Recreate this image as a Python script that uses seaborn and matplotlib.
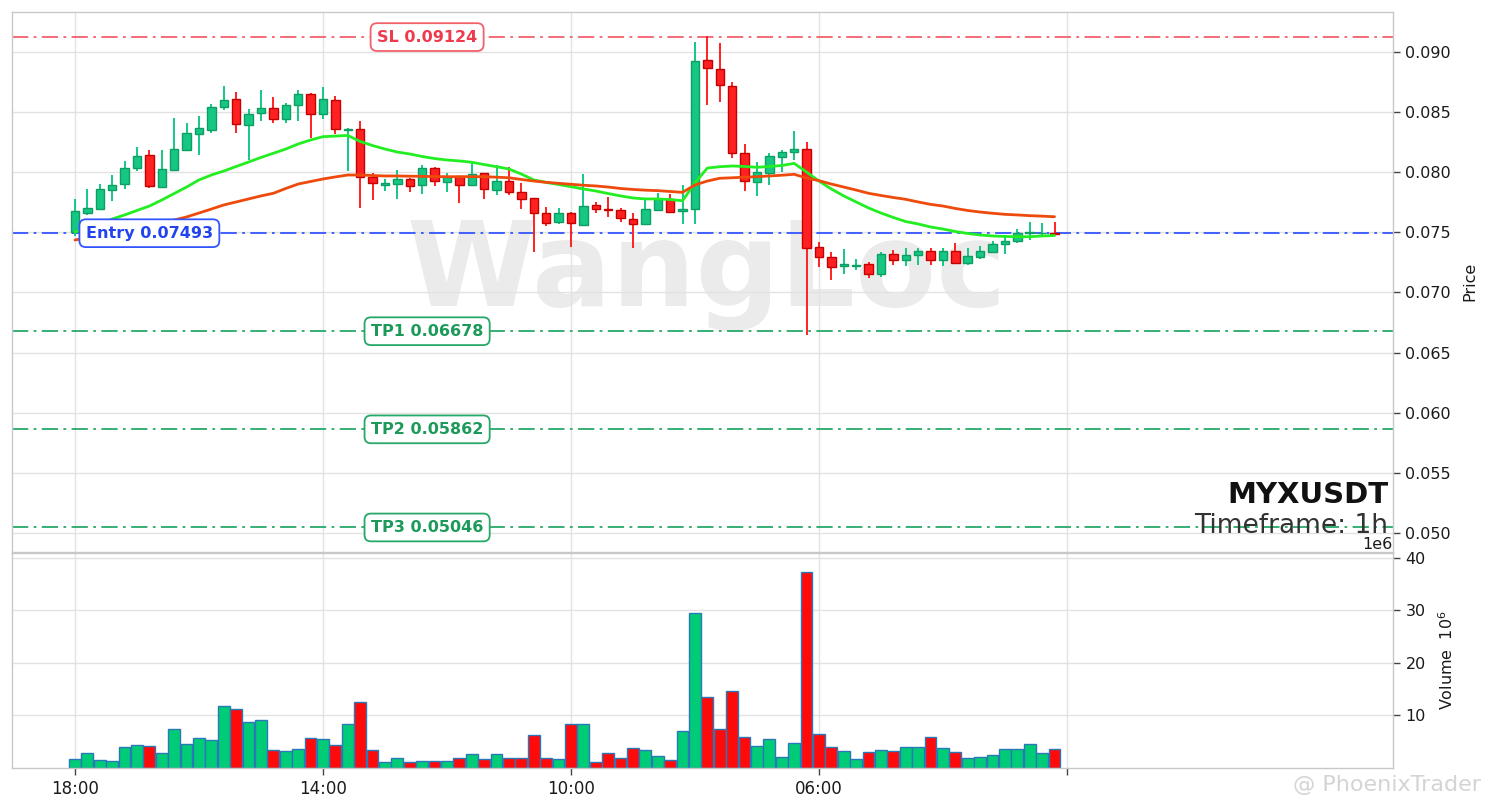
import numpy as np
import pandas as pd
import matplotlib
matplotlib.use("Agg")
import matplotlib.pyplot as plt
from matplotlib.ticker import ScalarFormatter
import seaborn as sns

sns.set_style("whitegrid", {"grid.color": "#e2e2e2", "axes.edgecolor": "#c8c8c8"})
plt.rcParams["font.family"] = ["DejaVu Sans"]

# ---------------- data ----------------
open_ = [0.07503, 0.07664, 0.07692, 0.07855, 0.07900, 0.08038, 0.08141, 0.07880, 0.08019, 0.08188,
         0.08316, 0.08351, 0.08545, 0.08607, 0.08390, 0.08490, 0.08532, 0.08440, 0.08557, 0.08648,
         0.08482, 0.08601, 0.08351, 0.08357, 0.07958, 0.07896, 0.07905, 0.07944, 0.07891, 0.08033,
         0.07916, 0.07966, 0.07898, 0.07990, 0.07852, 0.07927, 0.07833, 0.07784, 0.07661, 0.07589,
         0.07661, 0.07561, 0.07728, 0.07694, 0.07686, 0.07610, 0.07567, 0.07689, 0.07780, 0.07675,
         0.07692, 0.08931, 0.08856, 0.08717, 0.08158, 0.07916, 0.07991, 0.08129, 0.08166, 0.08193,
         0.07376, 0.07293, 0.07218, 0.07223, 0.07235, 0.07154, 0.07319, 0.07274, 0.07308, 0.07345,
         0.07270, 0.07345, 0.07243, 0.07298, 0.07339, 0.07401, 0.07428, 0.07492, 0.07492, 0.07495]
high = [0.07778, 0.07861, 0.07905, 0.07980, 0.08094, 0.08207, 0.08183, 0.08183, 0.08449, 0.08407,
        0.08470, 0.08565, 0.08717, 0.08665, 0.08523, 0.08684, 0.08623, 0.08573, 0.08684, 0.08657,
        0.08706, 0.08634, 0.08364, 0.08429, 0.07996, 0.07941, 0.08019, 0.07952, 0.08060, 0.08041,
        0.07996, 0.07969, 0.08094, 0.07996, 0.08064, 0.08044, 0.07908, 0.07786, 0.07709, 0.07700,
        0.07669, 0.07983, 0.07751, 0.07798, 0.07700, 0.07659, 0.07769, 0.07825, 0.07819, 0.07894,
        0.09086, 0.09130, 0.09077, 0.08753, 0.08232, 0.08083, 0.08163, 0.08185, 0.08346, 0.08249,
        0.07422, 0.07334, 0.07359, 0.07276, 0.07251, 0.07337, 0.07353, 0.07368, 0.07373, 0.07370,
        0.07373, 0.07409, 0.07373, 0.07387, 0.07431, 0.07478, 0.07528, 0.07584, 0.07575, 0.07584]
low = [0.07470, 0.07645, 0.07686, 0.07763, 0.07861, 0.08013, 0.07867, 0.07877, 0.08013, 0.08185,
       0.08143, 0.08324, 0.08518, 0.08329, 0.08102, 0.08429, 0.08407, 0.08412, 0.08429, 0.08287,
       0.08440, 0.08316, 0.08013, 0.07705, 0.07769, 0.07844, 0.07778, 0.07838, 0.07819, 0.07886,
       0.07838, 0.07748, 0.07886, 0.07775, 0.07807, 0.07811, 0.07693, 0.07339, 0.07549, 0.07570,
       0.07376, 0.07557, 0.07659, 0.07628, 0.07586, 0.07368, 0.07565, 0.07686, 0.07659, 0.07570,
       0.07570, 0.08559, 0.08587, 0.08116, 0.07844, 0.07803, 0.07894, 0.08005, 0.08102, 0.06647,
       0.07210, 0.07104, 0.07154, 0.07187, 0.07118, 0.07129, 0.07229, 0.07220, 0.07231, 0.07229,
       0.07220, 0.07241, 0.07229, 0.07279, 0.07337, 0.07320, 0.07414, 0.07437, 0.07478, 0.07478]
close = [0.07678, 0.07703, 0.07861, 0.07891, 0.08033, 0.08133, 0.07888, 0.08025, 0.08191, 0.08324,
         0.08365, 0.08540, 0.08598, 0.08399, 0.08484, 0.08532, 0.08440, 0.08559, 0.08648, 0.08482,
         0.08609, 0.08357, 0.08360, 0.07958, 0.07908, 0.07913, 0.07944, 0.07888, 0.08033, 0.07925,
         0.07963, 0.07898, 0.07983, 0.07857, 0.07927, 0.07838, 0.07780, 0.07659, 0.07582, 0.07661,
         0.07575, 0.07719, 0.07692, 0.07682, 0.07617, 0.07567, 0.07692, 0.07780, 0.07669, 0.07692,
         0.08925, 0.08864, 0.08723, 0.08158, 0.07927, 0.08000, 0.08135, 0.08166, 0.08193, 0.07373,
         0.07293, 0.07215, 0.07235, 0.07231, 0.07150, 0.07319, 0.07274, 0.07310, 0.07347, 0.07274,
         0.07345, 0.07243, 0.07304, 0.07345, 0.07401, 0.07428, 0.07492, 0.07501, 0.07496, 0.07487]
volume_m = [1.64, 2.77, 1.45, 1.26, 3.90, 4.47, 4.20, 2.77, 7.49, 4.66,
            5.79, 5.42, 11.83, 11.26, 8.81, 9.19, 3.34, 3.15, 3.53, 5.79,
            5.60, 4.47, 8.43, 12.58, 3.34, 1.08, 1.83, 1.08, 1.26, 1.26,
            1.26, 1.83, 2.58, 1.64, 2.58, 1.83, 1.83, 6.36, 1.83, 1.64,
            8.43, 8.43, 1.08, 2.77, 1.83, 3.71, 3.34, 2.20, 1.45, 7.11,
            29.57, 13.53, 7.49, 14.66, 5.98, 4.28, 5.60, 2.02, 4.85, 37.30,
            6.55, 3.90, 3.15, 1.64, 2.96, 3.34, 3.15, 4.09, 3.90, 5.98,
            3.71, 2.96, 1.83, 2.02, 2.40, 3.53, 3.53, 4.66, 2.77, 3.53]
ema_fast = [0.07503, 0.07536, 0.07570, 0.07611, 0.07645, 0.07682, 0.07719, 0.07769, 0.07823, 0.07877,
            0.07936, 0.07977, 0.08010, 0.08048, 0.08085, 0.08123, 0.08158, 0.08193, 0.08235, 0.08268,
            0.08296, 0.08301, 0.08306, 0.08256, 0.08222, 0.08193, 0.08168, 0.08152, 0.08131, 0.08114,
            0.08102, 0.08094, 0.08083, 0.08064, 0.08046, 0.08027, 0.07985, 0.07936, 0.07916, 0.07898,
            0.07880, 0.07861, 0.07844, 0.07823, 0.07803, 0.07786, 0.07778, 0.07778, 0.07773, 0.07763,
            0.07911, 0.08035, 0.08046, 0.08052, 0.08048, 0.08041, 0.08048, 0.08056, 0.08074, 0.08002,
            0.07927, 0.07861, 0.07803, 0.07753, 0.07703, 0.07661, 0.07624, 0.07590, 0.07570, 0.07545,
            0.07528, 0.07507, 0.07491, 0.07478, 0.07470, 0.07466, 0.07464, 0.07464, 0.07470, 0.07474]
ema_slow = [0.07437, 0.07453, 0.07470, 0.07491, 0.07511, 0.07536, 0.07557, 0.07578, 0.07603, 0.07628,
            0.07661, 0.07694, 0.07728, 0.07753, 0.07778, 0.07803, 0.07825, 0.07865, 0.07902, 0.07923,
            0.07944, 0.07961, 0.07977, 0.07977, 0.07973, 0.07969, 0.07969, 0.07967, 0.07966, 0.07964,
            0.07963, 0.07963, 0.07963, 0.07963, 0.07959, 0.07954, 0.07940, 0.07927, 0.07916, 0.07908,
            0.07900, 0.07892, 0.07886, 0.07877, 0.07865, 0.07857, 0.07851, 0.07847, 0.07840, 0.07833,
            0.07894, 0.07927, 0.07950, 0.07954, 0.07959, 0.07963, 0.07969, 0.07975, 0.07983, 0.07952,
            0.07930, 0.07902, 0.07877, 0.07852, 0.07825, 0.07807, 0.07790, 0.07775, 0.07753, 0.07733,
            0.07719, 0.07699, 0.07682, 0.07669, 0.07659, 0.07650, 0.07645, 0.07639, 0.07635, 0.07630]
tick_pos = [0, 20, 40, 60, 80]
tick_labels = ["18:00", "14:00", "10:00", "06:00", ""]
level_names = ["SL", "Entry", "TP1", "TP2", "TP3"]
level_values = [0.09124, 0.07493, 0.06678, 0.05862, 0.05046]
symbol = "MYXUSDT"
timeframe = "Timeframe: 1h"

# ---------------- frame ----------------
df = pd.DataFrame({"open": open_, "high": high, "low": low, "close": close,
                   "volume": np.array(volume_m) * 1e6,
                   "ema_fast": ema_fast, "ema_slow": ema_slow})
df["idx"] = np.arange(len(df))
up = df["close"] >= df["open"]

W, H = 1490, 808
fig = plt.figure(figsize=(W / 100, H / 100), dpi=100)
ax1 = fig.add_axes([12 / W, 1 - 551.7 / H, 1381 / W, 539.7 / H])
ax2 = fig.add_axes([12 / W, 1 - 768 / H, 1381 / W, 215 / H], sharex=ax1)

UP_FACE, UP_EDGE = "#16c784", "#0e9e63"
DN_FACE, DN_EDGE = "#ff2121", "#c40000"

# watermark
ax1.text(0.503, 0.515, "WangLoc", transform=ax1.transAxes, ha="center", va="center",
         fontsize=85, fontweight="bold", color="#ebebeb", zorder=0)

# candles
colors_w = np.where(up, UP_FACE, DN_FACE)
ax1.vlines(df["idx"], df["low"], df["high"], colors=colors_w, linewidth=1.4, zorder=2)
body_bottom = np.minimum(df["open"], df["close"])
body_h = np.maximum(np.abs(df["close"] - df["open"]), 0.00004)
ax1.bar(df["idx"], body_h, bottom=body_bottom, width=0.68,
        color=np.where(up, UP_FACE, DN_FACE), edgecolor=np.where(up, UP_EDGE, DN_EDGE),
        linewidth=1.0, zorder=3)

# moving averages
sns.lineplot(data=df, x="idx", y="ema_fast", ax=ax1, color="#22ee22", linewidth=2.0, zorder=4)
sns.lineplot(data=df, x="idx", y="ema_slow", ax=ax1, color="#ee4a0c", linewidth=2.0, zorder=4)

# levels
level_line = {"SL": "#f2606c", "Entry": "#3355ff", "TP1": "#26a869", "TP2": "#26a869", "TP3": "#26a869"}
level_text = {"SL": "#ee3a4c", "Entry": "#2244ee", "TP1": "#1c9a5a", "TP2": "#1c9a5a", "TP3": "#1c9a5a"}
level_x = {"SL": 28.4, "Entry": 6.0, "TP1": 28.4, "TP2": 28.4, "TP3": 28.4}
for name, val in zip(level_names, level_values):
    ax1.axhline(val, color=level_line[name], linestyle=(0, (9, 3, 1.5, 3)), linewidth=1.3, zorder=1)
    ax1.text(level_x[name], val, f"{name} {val:.5f}", ha="center", va="center",
             fontsize=11.5, fontweight="bold", color=level_text[name], zorder=6,
             bbox=dict(boxstyle="round,pad=0.4", fc="white", ec=level_line[name], lw=1.3))

ax1.text(0.9965, 0.105, symbol, transform=ax1.transAxes, ha="right", va="center",
         fontsize=21, fontweight="bold", color="#111111", zorder=7)
ax1.text(0.9965, 0.048, timeframe, transform=ax1.transAxes, ha="right", va="center",
         fontsize=19, color="#333333", zorder=7)

# volume
ax2.bar(df["idx"], df["volume"], width=0.95,
        color=np.where(up, "#00cc77", "#ff0a0a"), edgecolor="#2a78b8", linewidth=1.0, zorder=2)

# axes cosmetics
for ax in (ax1, ax2):
    ax.set_xlim(-5.08, 106.3)
    ax.yaxis.tick_right()
    ax.yaxis.set_label_position("right")
    ax.set_xticks(tick_pos)
    ax.grid(True, color="#e2e2e2", linewidth=1.0)
    ax.set_axisbelow(True)
    for s in ax.spines.values():
        s.set_color("#c8c8c8")
        s.set_linewidth(1.0)
    ax.tick_params(axis="y", which="both", right=True, left=False, length=5, width=1,
                   color="#444444", labelcolor="#1a1a1a", labelsize=11.5, pad=4)
    ax.set_xlabel("")

ax1.set_ylim(0.048445, 0.093326)
ax1.set_yticks(np.arange(0.050, 0.0901, 0.005))
ax1.set_yticklabels([f"{v:.3f}" for v in np.arange(0.050, 0.0901, 0.005)])
ax1.set_ylabel("Price", fontsize=11.5, labelpad=8, color="#1a1a1a")
ax1.tick_params(axis="x", bottom=False, labelbottom=False)

ax2.set_ylim(0, 40.9e6)
ax2.set_yticks([10e6, 20e6, 30e6, 40e6])
sf = ScalarFormatter(useMathText=False)
sf.set_powerlimits((6, 6))
ax2.yaxis.set_major_formatter(sf)
ax2.set_ylabel(r"Volume  $10^{6}$", fontsize=11.5, labelpad=8, color="#1a1a1a")
ax2.yaxis.get_offset_text().set_fontsize(11.5)
ax2.set_xticks(tick_pos)
ax2.set_xticklabels(tick_labels)
ax2.tick_params(axis="x", bottom=True, length=5, width=1, color="#444444",
                labelcolor="#1a1a1a", labelsize=12, pad=4)

fig.text(0.994, 0.028, "@ PhoenixTrader", ha="right", va="center", fontsize=16,
         color="#d4d4d4")

fig.savefig("out.png", dpi=100, facecolor="white")
